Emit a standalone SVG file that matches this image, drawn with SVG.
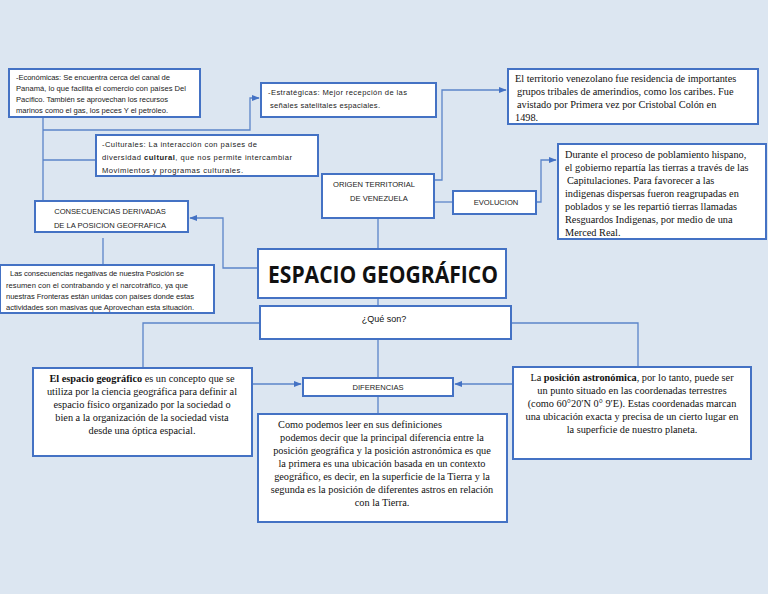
<svg xmlns="http://www.w3.org/2000/svg" width="768" height="594" viewBox="0 0 768 594">
<style>
.b{fill:#fff;stroke:#4472c4;stroke-width:2}
.c{fill:none;stroke:#5b85c9;stroke-width:1.3}
.s{font-family:"Liberation Sans",Arial,sans-serif;font-size:7.6px;fill:#222}
.m{font-family:"Liberation Sans",Arial,sans-serif;font-size:9px;fill:#111}
.r{font-family:"Liberation Serif","Times New Roman",serif;font-size:10.3px;fill:#111}
</style>
<defs><marker id="a" viewBox="0 0 10 10" refX="9" refY="5" markerWidth="6" markerHeight="6" orient="auto"><path d="M0,1L10,5L0,9z" fill="#4472c4"/></marker></defs>
<rect width="768" height="594" fill="#dce6f1"/>
<g id="connectors">
<path class="c" d="M43,117V201M43,130H250V98H259" marker-end="url(#a)"/>
<path class="c" d="M43,160H96"/>
<path class="c" d="M258,268H223V218H190" marker-end="url(#a)"/>
<path class="c" d="M103,238V265"/>
<path class="c" d="M378,218V249M378,298V306M378,339V378M378,396V414"/>
<path class="c" d="M434,202H453"/>
<path class="c" d="M434,180H442V90H506" marker-end="url(#a)"/>
<path class="c" d="M536,202H541V160H556" marker-end="url(#a)"/>
<path class="c" d="M260,323H143V368M511,323H638V367"/>
<path class="c" d="M252,384H301" marker-end="url(#a)"/>
<path class="c" d="M513,384H455" marker-end="url(#a)"/>
</g>
<g id="economicas"><rect class="b" x="9" y="69" width="191" height="48"/>
<text class="s" x="16" y="80" textLength="154">-Económicas: Se encuentra cerca del canal de</text>
<text class="s" x="16" y="91" textLength="170">Panamá, lo que facilita el comercio con países Del</text>
<text class="s" x="16" y="102" textLength="152">Pacífico. También se aprovechan los recursos</text>
<text class="s" x="16" y="113" textLength="152">marinos como el gas, los peces Y el petróleo.</text></g>
<g id="estrategicas"><rect class="b" x="261" y="83" width="175" height="34"/>
<text class="s" x="268" y="95" textLength="139">-Estratégicas: Mejor recepción de las</text>
<text class="s" x="270" y="108" textLength="110">señales satelitales espaciales.</text></g>
<g id="culturales"><rect class="b" x="96" y="135" width="222" height="41"/>
<text class="s" x="102" y="147" textLength="155">-Culturales: La interacción con países de</text>
<text class="s" x="102" y="160" textLength="190">diversidad <tspan font-weight="bold">cultural</tspan>, que nos permite intercambiar</text>
<text class="s" x="102" y="173" textLength="141">Movimientos y programas culturales.</text></g>
<g id="origen"><rect class="b" x="322" y="174" width="112" height="44"/>
<text class="s" x="374" y="187" text-anchor="middle" font-size="8.5">ORIGEN TERRITORIAL</text>
<text class="s" x="379" y="201" text-anchor="middle" font-size="8.5">DE VENEZUELA</text></g>
<g id="consecuencias"><rect class="b" x="35" y="201" width="153" height="31"/>
<text class="s" x="110" y="214" text-anchor="middle" font-size="8.5">CONSECUENCIAS DERIVADAS</text>
<text class="s" x="110" y="228" text-anchor="middle" font-size="8.5">DE LA POSICION GEOFRAFICA</text></g>
<g id="territorio"><rect class="b" x="508" y="69" width="250" height="55"/>
<text class="r" x="515" y="82">El territorio venezolano fue residencia de importantes</text>
<text class="r" x="517" y="95">grupos tribales de amerindios, como los caribes. Fue</text>
<text class="r" x="517" y="108">avistado por Primera vez por Cristobal Colón en</text>
<text class="r" x="515" y="121">1498.</text></g>
<g id="durante"><rect class="b" x="558" y="144" width="208" height="95"/>
<text class="r" x="565" y="158">Durante el proceso de poblamiento hispano,</text>
<text class="r" x="565" y="171">el gobierno repartía las tierras a través de las</text>
<text class="r" x="567" y="184">Capitulaciones. Para favorecer a las</text>
<text class="r" x="565" y="197">indigenas dispersas fueron reagrupadas en</text>
<text class="r" x="565" y="210">poblados y se les repartió tierras llamadas</text>
<text class="r" x="565" y="223">Resguardos Indigenas, por medio de una</text>
<text class="r" x="565" y="236">Merced Real.</text></g>
<g id="evolucion"><rect class="b" x="453" y="191" width="83" height="23"/>
<text class="s" x="496" y="205" text-anchor="middle" font-size="8.5">EVOLUCION</text></g>
<g id="espacio"><rect class="b" x="258" y="249" width="248" height="49"/>
<text x="268" y="283" textLength="230" lengthAdjust="spacingAndGlyphs" font-family="'Open Sans','Liberation Sans',sans-serif" font-weight="bold" font-size="23" fill="#111">ESPACIO GEOGRÁFICO</text></g>
<g id="negativas"><rect class="b" x="0" y="265" width="214" height="48"/>
<text class="s" x="10" y="276" font-size="6.8" textLength="174">Las consecuencias negativas de nuestra Posición se</text>
<text class="s" x="6" y="288" font-size="6.8" textLength="182">resumen con el contrabando y el narcotráfico, ya que</text>
<text class="s" x="6" y="299" font-size="6.8" textLength="188">nuestras Fronteras están unidas con países donde estas</text>
<text class="s" x="6" y="310" font-size="6.8" textLength="188">actividades son masivas que Aprovechan esta situación.</text></g>
<g id="queson"><rect class="b" x="260" y="306" width="251" height="33"/>
<text class="m" x="384" y="322" text-anchor="middle" font-size="11">¿Qué son?</text></g>
<g id="elespacio"><rect class="b" x="33" y="368" width="219" height="88"/>
<text class="r" x="142" y="382" text-anchor="middle"><tspan font-weight="bold">El espacio geográfico</tspan> es un concepto que se</text>
<text class="r" x="142" y="395" text-anchor="middle">utiliza por la ciencia geográfica para definir al</text>
<text class="r" x="142" y="408" text-anchor="middle">espacio físico organizado por la sociedad o</text>
<text class="r" x="142" y="421" text-anchor="middle">bien a la organización de la sociedad vista</text>
<text class="r" x="142" y="434" text-anchor="middle">desde una óptica espacial.</text></g>
<g id="diferencias"><rect class="b" x="303" y="378" width="150" height="18"/>
<text class="s" x="378" y="390" text-anchor="middle" font-size="8">DIFERENCIAS</text></g>
<g id="como"><rect class="b" x="258" y="414" width="249" height="108"/>
<text class="r" x="360" y="428" text-anchor="middle">Como podemos leer en sus definiciones</text>
<text class="r" x="382" y="441" text-anchor="middle">podemos decir que la principal diferencia entre la</text>
<text class="r" x="382" y="454" text-anchor="middle">posición geográfica y la posición astronómica es  que</text>
<text class="r" x="382" y="467" text-anchor="middle">la primera es una ubicación basada en un  contexto</text>
<text class="r" x="382" y="480" text-anchor="middle">geográfico, es decir, en la superficie de  la Tierra y la</text>
<text class="r" x="382" y="493" text-anchor="middle">segunda es la posición de diferentes  astros en relación</text>
<text class="r" x="382" y="506" text-anchor="middle">con la Tierra.</text></g>
<g id="astronomica"><rect class="b" x="513" y="367" width="238" height="92"/>
<text class="r" x="632" y="381" text-anchor="middle">La <tspan font-weight="bold">posición astronómica</tspan>, por lo tanto, puede ser</text>
<text class="r" x="632" y="394" text-anchor="middle">un punto situado en las coordenadas terrestres</text>
<text class="r" x="632" y="407" text-anchor="middle">(como 60°20′N 0° 9′E). Estas coordenadas marcan</text>
<text class="r" x="632" y="420" text-anchor="middle">una ubicación exacta y precisa de un cierto lugar en</text>
<text class="r" x="632" y="433" text-anchor="middle">la superficie de nuestro planeta.</text></g>
</svg>
